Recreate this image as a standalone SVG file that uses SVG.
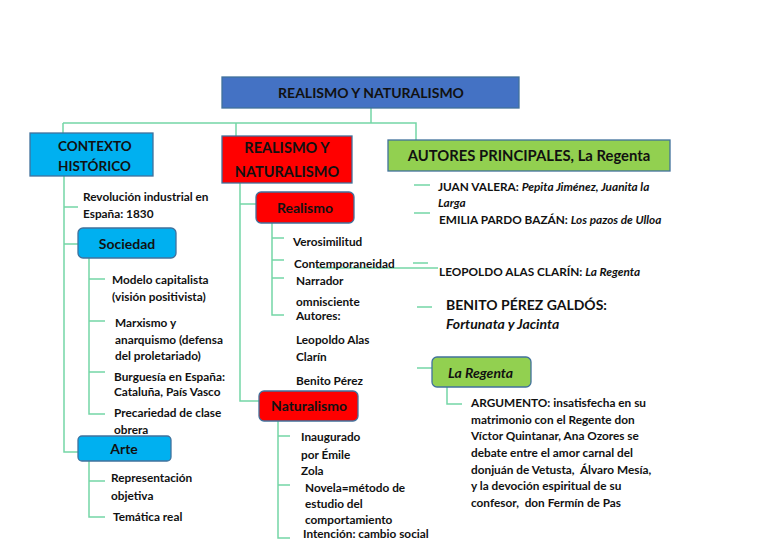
<svg xmlns="http://www.w3.org/2000/svg" width="768" height="543" viewBox="0 0 768 543">
<style>
text{font-family:Lato,"Liberation Sans",sans-serif;font-weight:bold;fill:#111;}
.t{font-size:11.8px;}
.i{font-style:italic;}
.box{stroke:#41719C;stroke-width:1.3;}
.blue{fill:#4472C4;}
.cyan{fill:#00B0F0;}
.red{fill:#FF0000;}
.green{fill:#92D050;}
.c{fill:none;stroke:#74D6A6;stroke-width:1.5;}
</style>
<rect width="768" height="543" fill="#fff"/>
<g id="connectors">
<path class="c" d="M371 108V123M63 123H416V140M63 123V133M236 123V136"/>
<path class="c" d="M64 176V452H78M64 207H78M64 244H78"/>
<path class="c" d="M89 258V414H105M89 279H105M89 321H105M89 372H105"/>
<path class="c" d="M89 461V517H105M89 481H105"/>
<path class="c" d="M240 183V401H259M240 204H256"/>
<path class="c" d="M272 223V315H284M272 238H284M272 260H284M272 278H284"/>
<path class="c" d="M278 421V538H290M278 436H290M278 485H290"/>
<path class="c" d="M316 268H438"/>
<path class="c" d="M414 185H430M414 213H430M413 263H428M417 307H432M417 368H432"/>
<path class="c" d="M447 387V404H462"/>
</g>
<g id="titulo">
<rect class="box blue" x="222" y="77" width="297" height="31"/>
<text x="371" y="98" font-size="14" text-anchor="middle">REALISMO Y NATURALISMO</text>
</g>
<g id="contexto">
<rect class="box cyan" x="30" y="133" width="123" height="43"/>
<text x="58" y="151" font-size="13.5">CONTEXTO</text>
<text x="58" y="171" font-size="13.5">HISTÓRICO</text>
</g>
<g id="revolucion">
<text class="t" x="83" y="201">Revolución industrial en</text>
<text class="t" x="83" y="218">España: 1830</text>
</g>
<g id="sociedad">
<rect class="box cyan" x="78" y="228" width="98" height="30" rx="5"/>
<text x="127" y="249" font-size="14" text-anchor="middle">Sociedad</text>
</g>
<g id="sociedad-items">
<text class="t" x="112" y="284">Modelo capitalista</text>
<text class="t" x="112" y="301">(visión positivista)</text>
<text class="t" x="115" y="327">Marxismo y</text>
<text class="t" x="115" y="344">anarquismo (defensa</text>
<text class="t" x="115" y="360">del proletariado)</text>
<text class="t" x="114" y="381">Burguesía en España:</text>
<text class="t" x="114" y="396">Cataluña, País Vasco</text>
<text class="t" x="114" y="417">Precariedad de clase</text>
<text class="t" x="114" y="434">obrera</text>
</g>
<g id="arte">
<rect class="box cyan" x="78" y="436" width="93" height="25" rx="4"/>
<text x="124" y="454" font-size="14" text-anchor="middle">Arte</text>
</g>
<g id="arte-items">
<text class="t" x="111" y="482">Representación</text>
<text class="t" x="111" y="500">objetiva</text>
<text class="t" x="113" y="521">Temática real</text>
</g>
<g id="realismo-naturalismo">
<rect class="box red" x="222" y="136" width="130" height="47"/>
<text x="287" y="153" font-size="14.5" text-anchor="middle">REALISMO Y</text>
<text x="287" y="177" font-size="14.5" text-anchor="middle">NATURALISMO</text>
</g>
<g id="realismo">
<rect class="box red" x="256" y="192" width="98" height="31" rx="5"/>
<text x="305" y="213" font-size="14" text-anchor="middle">Realismo</text>
</g>
<g id="realismo-items">
<text class="t" x="293" y="246">Verosimilitud</text>
<text class="t" x="294" y="268">Contemporaneidad</text>
<text class="t" x="296" y="285">Narrador</text>
<text class="t" x="296" y="306">omnisciente</text>
<text class="t" x="296" y="320">Autores:</text>
<text class="t" x="296" y="344">Leopoldo Alas</text>
<text class="t" x="296" y="361">Clarín</text>
<text class="t" x="296" y="385">Benito Pérez</text>
</g>
<g id="naturalismo">
<rect class="box red" x="259" y="391" width="99" height="30" rx="5"/>
<text x="309" y="411" font-size="14" text-anchor="middle">Naturalismo</text>
</g>
<g id="naturalismo-items">
<text class="t" x="301" y="441">Inaugurado</text>
<text class="t" x="301" y="459">por Émile</text>
<text class="t" x="301" y="475">Zola</text>
<text class="t" x="305" y="492">Novela=método de</text>
<text class="t" x="305" y="508">estudio del</text>
<text class="t" x="305" y="524">comportamiento</text>
<text class="t" x="303" y="538">Intención: cambio social</text>
</g>
<g id="autores">
<rect class="box green" x="388" y="140" width="282" height="31"/>
<text x="529" y="161" font-size="14.8" text-anchor="middle">AUTORES PRINCIPALES, La Regenta</text>
</g>
<g id="autores-items">
<text class="t" x="438" y="191">JUAN VALERA: <tspan class="i">Pepita Jiménez, Juanita la</tspan></text>
<text class="t i" x="438" y="207">Larga</text>
<text class="t" x="439" y="224">EMILIA PARDO BAZÁN: <tspan class="i">Los pazos de Ulloa</tspan></text>
<text class="t" x="439" y="276">LEOPOLDO ALAS CLARÍN: <tspan class="i">La Regenta</tspan></text>
<text x="446" y="310" font-size="14">BENITO PÉREZ GALDÓS:</text>
<text x="446" y="329" font-size="14" class="i">Fortunata y Jacinta</text>
</g>
<g id="la-regenta">
<rect class="box green" x="432" y="357" width="99" height="30" rx="5"/>
<text x="448" y="378" font-size="14" class="i">La Regenta</text>
</g>
<g id="argumento">
<text class="t" x="471" y="407">ARGUMENTO: insatisfecha en su</text>
<text class="t" x="471" y="424">matrimonio con el Regente don</text>
<text class="t" x="471" y="440">Víctor Quintanar, Ana Ozores se</text>
<text class="t" x="471" y="457">debate entre el amor carnal del</text>
<text class="t" x="471" y="474" xml:space="preserve">donjuán de Vetusta,  Álvaro Mesía,</text>
<text class="t" x="471" y="490">y la devoción espiritual de su</text>
<text class="t" x="471" y="507" xml:space="preserve">confesor,  don Fermín de Pas</text>
</g>
</svg>
